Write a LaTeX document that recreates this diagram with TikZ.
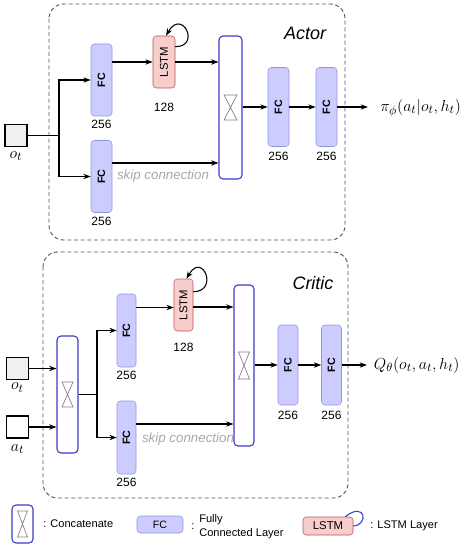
\documentclass[tikz,border=0pt]{standalone}
\usepackage{fontspec}
\setmainfont{Liberation Sans}
\usepackage{graphicx}
\usetikzlibrary{calc,positioning,arrows.meta}
\definecolor{fcFill}{HTML}{CCCCFF}
\definecolor{fcLine}{HTML}{9494DB}
\definecolor{lstmFill}{HTML}{F8CECC}
\definecolor{lstmLine}{HTML}{B85450}
\definecolor{catLine}{HTML}{3A3ACC}
\definecolor{grpLine}{HTML}{4D5566}
\definecolor{skipGray}{HTML}{A8A8A8}
\def\hourglass(#1)(#2:#3){\draw[hg] ($(#1)+(-#2/2,-#3/2)$) -- ++(#2,0) -- ($(#1)+(-#2/2,#3/2)$) -- ++(#2,0) -- cycle;}
\tikzset{
  fcbox/.style={draw=fcLine, fill=fcFill, rounded corners=2.5pt, inner sep=0pt, font=\fontsize{8}{9}\selectfont\bfseries},
  lstmbox/.style={draw=lstmLine, fill=lstmFill, rounded corners=2.5pt, inner sep=0pt, font=\fontsize{8.5}{9}\selectfont},
  catbox/.style={draw=catLine, fill=white, rounded corners=3pt, line width=0.8pt, inner sep=0pt},
  inbox/.style={draw=black, fill=black!6, line width=0.8pt, minimum size=16.5pt, inner sep=0pt},
  grp/.style={draw=grpLine, dash pattern=on 3pt off 2pt, line width=0.7pt, rounded corners=11pt},
  hg/.style={draw=black!50, line width=0.5pt},
  numlbl/.style={font=\fontsize{9}{10}\selectfont, inner sep=1pt},
  txt/.style={font=\fontsize{8.3}{10}\selectfont, inner sep=0pt},
  mathlbl/.style={font=\fontsize{12.5}{13}\selectfont, inner sep=0pt},
  conn/.style={-{Stealth[length=5.5pt,width=4pt]}, line width=0.8pt},
  wire/.style={line width=0.8pt}
}
\begin{document}
\begin{tikzpicture}[x=0.75pt,y=-0.75pt]
  \useasboundingbox (0,0) rectangle (474,545);

  %%%%% ACTOR %%%%%
  \draw[grp] (49,4) rectangle (345,240);
  \node[font=\fontsize{13.5}{14}\selectfont\itshape] (actorT) at (305,33) {Actor};

  \node[inbox] (obsA) at (16,135.5) {};
  \node[mathlbl, below=3pt of obsA] (obsAT) {$o_t$};

  \node[fcbox, minimum width=15.75pt, minimum height=54pt] (fcA1) at (101.5,80) {\rotatebox{90}{FC}};
  \node[fcbox, minimum width=15.75pt, minimum height=54pt] (fcA2) at (101.5,176.5) {\rotatebox{90}{FC}};
  \node[lstmbox, minimum width=16.5pt, minimum height=39pt] (lstmA) at (164,62) {\rotatebox{90}{LSTM}};
  \node[catbox, minimum width=17.25pt, minimum height=107.25pt] (catA) at (230.5,107.5) {};
  \hourglass(catA.center)(13:25)
  \node[fcbox, minimum width=15.75pt, minimum height=59.25pt] (fcA3) at (278.5,107) {\rotatebox{90}{FC}};
  \node[fcbox, minimum width=15.75pt, minimum height=59.25pt] (fcA4) at (326.5,107) {\rotatebox{90}{FC}};
  \node[mathlbl, anchor=west, inner xsep=9pt] (piOut) at (368,108) {$\pi_\phi(a_t|o_t,h_t)$};

  \node[numlbl, below=2pt of fcA1] (nA1) {256};
  \node[numlbl, below=2pt of fcA2] (nA2) {256};
  \node[numlbl, below=10pt of lstmA] (nA3) {128};
  \node[numlbl, below=3pt of fcA3] (nA4) {256};
  \node[numlbl, below=3pt of fcA4] (nA5) {256};
  \node[font=\fontsize{10}{11}\selectfont\itshape, text=skipGray] (skipA) at (163,176) {skip connection};

  \coordinate (brA) at (59,135.5);
  \draw[wire] (obsA) -- (brA);
  \draw[conn] (brA) |- (fcA1);
  \draw[conn] (brA) |- (fcA2);
  \draw[conn] (fcA1.east |- lstmA.west) -- (lstmA.west);
  \draw[conn] (lstmA.east) -- (lstmA.east -| catA.west);
  \draw[conn] ($(lstmA.north east)+(0,11)$) .. controls +(26,0) and +(16,-28) .. ($(lstmA.north)+(2,0)$);
  \draw[conn] ($(fcA2.east)+(0,-13.5)$) coordinate (skA) -- (skA -| catA.west);
  \draw[conn] (catA.east |- fcA3.west) -- (fcA3.west);
  \draw[conn] (fcA3) -- (fcA4);
  \draw[conn] (fcA4.east) -- (fcA4.east -| piOut.west);

  %%%%% CRITIC %%%%%
  \draw[grp] (43,252) rectangle (348,498);
  \node[font=\fontsize{13.5}{14}\selectfont\itshape] (criticT) at (313,283) {Critic};

  \node[inbox] (obsC) at (17.5,368.5) {};
  \node[mathlbl, below=2pt of obsC] (obsCT) {$o_t$};
  \node[inbox, fill=white] (actC) at (17.5,427) {};
  \node[mathlbl, below=4pt of actC] (actCT) {$a_t$};

  \node[catbox, minimum width=15.75pt, minimum height=87.75pt] (catC1) at (67.5,394.5) {};
  \hourglass(catC1.center)(11:25)
  \node[fcbox, minimum width=14.25pt, minimum height=54.75pt] (fcC1) at (126.5,330.5) {\rotatebox{90}{FC}};
  \node[fcbox, minimum width=14.25pt, minimum height=54.75pt] (fcC2) at (126.5,437.5) {\rotatebox{90}{FC}};
  \node[lstmbox, minimum width=14.25pt, minimum height=39pt] (lstmC) at (183.5,305) {\rotatebox{90}{LSTM}};
  \node[catbox, minimum width=15pt, minimum height=120.75pt] (catC2) at (244,365.5) {};
  \hourglass(catC2.center)(11:27)
  \node[fcbox, minimum width=15pt, minimum height=60pt] (fcC3) at (288,365) {\rotatebox{90}{FC}};
  \node[fcbox, minimum width=15pt, minimum height=60pt] (fcC4) at (331.5,365) {\rotatebox{90}{FC}};
  \node[mathlbl, anchor=west, inner xsep=5pt] (qOut) at (367,365) {$Q_\theta(o_t,a_t,h_t)$};

  \node[numlbl, below=2pt of fcC1] (nC1) {256};
  \node[numlbl, below=2pt of fcC2] (nC2) {256};
  \node[numlbl, below=8pt of lstmC] (nC3) {128};
  \node[numlbl, below=3pt of fcC3] (nC4) {256};
  \node[numlbl, below=3pt of fcC4] (nC5) {256};
  \node[font=\fontsize{10}{11}\selectfont\itshape, text=skipGray] (skipC) at (188,439) {skip connection};

  \draw[conn] (obsC) -- (obsC -| catC1.west);
  \draw[conn] (actC) -- (actC -| catC1.west);
  \coordinate (brC) at (97,394.5);
  \draw[wire] (catC1) -- (brC);
  \draw[conn] (brC) |- (fcC1);
  \draw[conn] (brC) |- (fcC2);
  \draw[conn] ($(fcC1.east)+(0,-23)$) coordinate (lsC) -- (lsC -| lstmC.west);
  \draw[conn] ($(lstmC.east)+(0,2)$) coordinate (loC) -- (loC -| catC2.west);
  \draw[conn] ($(lstmC.north east)+(0,13)$) .. controls +(26,0) and +(16,-28) .. ($(lstmC.north)+(3,0)$);
  \draw[conn] ($(fcC2.east)+(0,-13.5)$) coordinate (skC) -- (skC -| catC2.west);
  \draw[conn] (catC2.east |- fcC3.west) -- (fcC3.west);
  \draw[conn] (fcC3) -- (fcC4);
  \draw[conn] (fcC4.east) -- (fcC4.east -| qOut.west);

  %%%%% LEGEND %%%%%
  \node[catbox, minimum width=15.75pt, minimum height=28.5pt] (catL) at (22.5,524) {};
  \hourglass(catL.center)(10:26)
  \node[txt, anchor=west] (catLT) at (43,524) {: Concatenate};

  \node[fcbox, minimum width=34.5pt, minimum height=12.75pt, font=\fontsize{8}{9}\selectfont] (fcL) at (160,524.5) {FC};
  \node[txt] (fcLC) at (193,527) {:};
  \node[txt, anchor=west, align=left] (fcLT) at (199,526.5) {Fully\\Connected Layer};

  \node[lstmbox, minimum width=37.5pt, minimum height=13.5pt] (lstmL) at (328,526) {LSTM};
  \draw[catLine, line width=0.8pt] (lstmL.east) .. controls +(16,-1) and +(20,-16) .. ($(lstmL.north east)+(-8,0)$);
  \node[txt, anchor=west] (lstmLT) at (370,526) {: LSTM Layer};
\end{tikzpicture}
\end{document}
